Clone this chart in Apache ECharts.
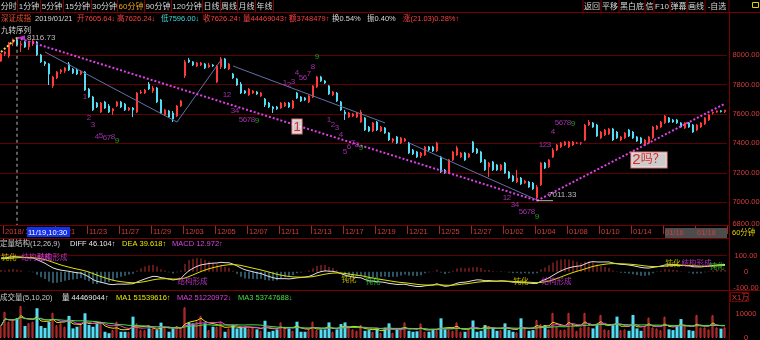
<!DOCTYPE html>
<html>
<head>
<meta charset="utf-8">
<script src="https://cdn.jsdelivr.net/npm/echarts/dist/echarts.min.js"></script>
<style>
html,body{margin:0;padding:0;background:#000;}
#chart{width:760px;height:340px;}
</style>
</head>
<body>
<div id="chart"></div>
<script>
// ---------- data ----------
const days = ['11/15','11/16','11/19','11/20','11/21','11/22','11/23','11/26','11/27','11/28','11/29','11/30',
  '12/03','12/04','12/05','12/06','12/07','12/10','12/11','12/12','12/13','12/14','12/17','12/18','12/19','12/20','12/21',
  '12/24','12/25','12/26','12/27','12/28','01/02','01/03','01/04','01/07','01/08','01/09','01/10','01/11',
  '01/14','01/15','01/16','01/17','01/18','01/21'];
const hours = ['10:30','11:30','14:00','15:00'];

const openP = [7959,8007,7993,8082,8102,8068,8088,8054,8075,8088,
 8000,7953,7939,7790,7844,7885,7891,7939,7905,7898,
 7871,7885,7769,7715,7674,7613,7681,7654,7620,7654,
 7681,7667,7627,7640,7613,7742,7742,7803,7756,7776,
 7695,7593,7620,7606,7586,7654,7858,7966,7953,7925,
 7932,7939,7919,7932,7817,7919,7973,7905,7871,7837,
 7803,7756,7729,7742,7749,7722,7701,7674,7647,7647,
 7640,7654,7674,7640,7742,7715,7708,7681,7715,7783,
 7851,7824,7790,7729,7742,7681,7613,7579,7586,7579,
 7545,7573,7511,7484,7545,7484,7505,7471,7416,7444,
 7403,7416,7403,7355,7342,7315,7321,7376,7376,7349,
 7308,7219,7199,7288,7321,7308,7335,7308,7410,7362,
 7342,7288,7240,7274,7254,7220,7267,7206,7179,7138,
 7165,7131,7138,7131,7030,7118,7267,7240,7308,7355,
 7376,7389,7376,7389,7401,7402,7423,7525,7539,7525,
 7437,7457,7464,7498,7477,7423,7437,7491,7477,7444,
 7437,7389,7403,7437,7498,7511,7539,7573,7559,7559,
 7539,7505,7539,7525,7491,7511,7532,7559,7605.64,7612,
 7621,7615];
const closeP = [8007,8020,8082,8102,8068,8075,8054,8082,8095,8000,
 7953,7939,7871,7851,7885,7898,7912,7898,7878,7871,
 7885,7762,7715,7627,7647,7674,7640,7613,7634,7681,
 7647,7627,7640,7627,7742,7749,7762,7769,7776,7681,
 7606,7627,7579,7566,7654,7688,7953,7953,7932,7946,
 7946,7912,7932,7925,7925,7973,7912,7939,7844,7796,
 7742,7742,7769,7756,7735,7742,7661,7647,7634,7634,
 7674,7674,7647,7688,7708,7688,7695,7722,7790,7851,
 7824,7810,7735,7749,7688,7627,7600,7606,7600,7606,
 7613,7491,7484,7539,7491,7511,7471,7423,7430,7403,
 7437,7430,7335,7328,7308,7335,7376,7355,7349,7403,
 7206,7199,7288,7342,7369,7335,7288,7328,7342,7335,
 7274,7220,7267,7220,7220,7254,7199,7165,7145,7165,
 7125,7145,7104,7091,7104,7267,7233,7288,7355,7389,
 7403,7410,7410,7410,7403,7404,7525,7545,7511,7450,
 7477,7491,7498,7423,7437,7444,7471,7450,7437,7416,
 7403,7423,7444,7511,7518,7545,7586,7545,7545,7539,
 7511,7539,7511,7477,7525,7539,7573,7593,7612,7620,
 7615,7626.24];
const lowP = [7953,7993,7980,8061,8061,8020,8048,8034,8061,7993,
 7946,7925,7796,7776,7837,7871,7878,7891,7871,7864,
 7864,7756,7708,7620,7640,7606,7634,7606,7593,7647,
 7640,7620,7620,7579,7606,7735,7735,7762,7742,7674,
 7600,7586,7572,7545,7579,7647,7844,7946,7925,7919,
 7925,7905,7912,7919,7810,7905,7905,7898,7837,7790,
 7735,7735,7722,7735,7729,7715,7647,7640,7606,7627,
 7634,7647,7640,7634,7701,7681,7688,7674,7708,7776,
 7817,7803,7729,7722,7681,7620,7559,7572,7579,7572,
 7539,7484,7477,7477,7484,7477,7464,7416,7403,7396,
 7396,7410,7328,7321,7301,7301,7315,7349,7342,7342,
 7199,7193,7193,7281,7315,7301,7281,7301,7335,7328,
 7267,7213,7172,7213,7213,7213,7193,7159,7138,7131,
 7118,7125,7098,7084,7011.33,7111,7226,7233,7301,7349,
 7369,7383,7369,7383,7396,7389,7416,7518,7505,7444,
 7430,7450,7457,7416,7430,7416,7430,7444,7430,7410,
 7396,7383,7396,7430,7491,7505,7532,7539,7539,7532,
 7505,7498,7505,7471,7484,7505,7525,7552,7596,7608,
 7610,7606];
const highP = [8014,8027,8088,8112,8116.73,8095,8095,8095,8109,8095,
 8007,7959,7946,7858,7891,7905,7919,7953,7912,7912,
 7898,7891,7776,7722,7681,7681,7688,7667,7640,7688,
 7688,7674,7647,7647,7749,7762,7769,7817,7790,7783,
 7701,7634,7627,7620,7661,7695,7966,7980,7959,7953,
 7953,7946,7946,7939,7932,7986,7980,7946,7878,7844,
 7817,7762,7776,7762,7756,7749,7708,7681,7654,7654,
 7681,7681,7681,7695,7749,7722,7715,7729,7796,7858,
 7858,7830,7796,7756,7749,7688,7627,7613,7606,7613,
 7627,7579,7518,7545,7552,7518,7511,7477,7437,7450,
 7444,7437,7410,7362,7349,7342,7383,7383,7383,7410,
 7315,7226,7294,7349,7383,7342,7342,7335,7416,7369,
 7349,7294,7274,7281,7260,7260,7274,7213,7186,7220,
 7172,7152,7145,7138,7118,7274,7274,7294,7369,7396,
 7410,7416,7416,7416,7410,7410,7532,7559,7545,7532,
 7484,7498,7505,7505,7484,7450,7477,7498,7484,7450,
 7444,7430,7450,7518,7525,7552,7593,7579,7566,7566,
 7545,7545,7545,7532,7532,7545,7579,7600,7615,7624,
 7626.24,7626.24];
// volume in units of 10,000
const volume = [5000,10960,6800,7500,8300,13300,5000,6200,6800,12400,
 5000,4200,6800,10500,5400,6100,4700,9200,4000,4700,
 5400,10300,5400,4700,6100,6400,2600,2000,3300,6800,
 2600,2600,2600,8900,6100,3300,3300,4000,4000,3300,
 6400,4700,2600,4000,5000,4500,12800,6400,6100,6800,
 9200,6100,3300,4700,4700,6800,2600,4000,5400,4000,
 4700,4700,4000,4400,3600,3000,7200,2600,3000,3600,
 6500,4700,4000,3000,6800,2600,2600,3300,6800,3300,
 3600,3600,6500,2600,3600,5800,6500,4700,3600,3000,
 5400,3000,3300,2600,4000,2200,4300,6100,2200,3600,
 3600,6500,3000,2600,2800,6100,2600,2600,3300,3300,
 8200,3600,3300,3000,6500,2600,2600,4000,7300,2600,
 3000,5400,4700,4400,3000,3300,6100,3300,2600,2400,
 8200,4000,3000,3300,7500,5800,5400,3600,10500,4700,
 3300,3500,10500,5400,3000,4400,10500,4700,4000,5400,
 9600,3600,3300,5400,8900,3300,3600,3000,9600,4000,
 3000,4700,8500,4400,4000,3300,8900,3600,3300,5400,
 7900,5100,3300,3000,9600,4400,4400,3600,9500,4400,
 3900,4447];

const xTickIdx = [1,6,14,22,30,38,46,54,62,70,78,86,94,102,110,118,126,134,142,150,158,166,174];
const xTickText = ['2018/','11/19','11/21','11/23','11/27','11/29','12/03','12/05','12/07','12/11','12/13','12/17',
  '12/19','12/21','12/25','12/27','01/02','01/04','01/08','01/10','01/14','01/16','01/18'];

// trend lines (bar index, price)
const trendDown = [[4,8116.73],[134,7011.33]];
const trendUp = [[134,7011.33],[181,7670]];
const trendYellow = [[0,8020],[4,8116.73]];
const thinLines = [
  [[10.5,8020],[44,7545]],
  [[44,7545],[55,7966]],
  [[58,7925],[96,7539]],
  [[102,7403],[134,7016]]
];
// nine-turn sequence numbers
const seqIdx = [21,22,23,24,25,26,27,28,29, 56,57,58,59,60,61,62,63,64, 71,72,73,74,75,76,77,78,79,
  82,83,84,85,86,87,88,89,90, 126,127,128,129,130,131,132,133,134, 135,136,137,138,139,140,141,142,143];
const seqTxt = ['1','2','3','4','5','6','7','8','9','1','2','3','4','5','6','7','8','9','1','2','3','4','5','6','7','8','9',
  '1','2','3','4','5','6','7','8','9','1','2','3','4','5','6','7','8','9','1','2','3','4','5','6','7','8','9'];
const seqVal = [7715,7572,7525,7443,7450,7437,7437,7443,7416,
  7729,7729,7620,7620,7559,7559,7559,7559,7552,
  7810,7796,7817,7878,7844,7844,7871,7919,7986,
  7559,7525,7505,7457,7342,7376,7403,7389,7369,
  7029,7029,6982,6982,6934,6934,6934,6934,6900,
  7389,7389,7389,7477,7539,7539,7539,7539,7532];
// MACD panel notes
const noteIdx = [0,5,9,44,85,91,128,135,166,170,177];
const noteVal = [85,85,85,-64,-51,-63,-63,-63,47,47,29];
const noteTxt = ['钝化','结构形成','结构形成','结构形成','钝化','钝化','钝化','结构形成','钝化','结构形成','钝化'];
const noteKind = ['y','m','m','m','y','g','y','m','y','m','g'];
const macdStart = [85, 80]; // DIFF, DEA at the left edge

// ---------- derived ----------
const cats = [];
days.forEach((d,k)=>{ (k===0?hours.slice(2):hours).forEach(h=>cats.push(d+' '+h)); });
const N = cats.length;
const RED='#ff3c3c', CYAN='#54dcf4', GRID='#5e0000', LBL='#d83c3c';
const FONT='"Liberation Sans","Noto Sans CJK SC",sans-serif';

// MACD (12,26,9)
const diff=[], dea=[], hist=[];
let e12 = closeP[0] - macdStart[0]*5.5/7, e26 = closeP[0] - macdStart[0]*12.5/7, d9 = macdStart[1];
for (let i=0;i<N;i++){
  if(i>0){ e12 = e12*11/13 + closeP[i]*2/13; e26 = e26*25/27 + closeP[i]*2/27; }
  const df = e12-e26; if(i>0) d9 = d9*0.8 + df*0.2;
  diff.push(df); dea.push(d9); hist.push(2*(df-d9));
}
function ma(arr,n){ return arr.map((_,i)=>{const s=Math.max(0,i-n+1); let t=0; for(let k=s;k<=i;k++) t+=arr[k]; return t/(i-s+1);}); }
const ma5=ma(volume,5), ma10=ma(volume,10), ma20=ma(volume,20);

const tickMap = {}; xTickIdx.forEach((v,k)=>tickMap[v]=xTickText[k]);

const chart = echarts.init(document.getElementById('chart'), null, {renderer:'canvas'});

function T(x,y,text,color,size,align,z){
  return {type:'text', x:x, y:y, z:z||100, style:{text:text, fill:color, font:(size||7.5)+'px '+FONT, textAlign:align||'left', textVerticalAlign:'middle'}};
}
function L(x1,y1,x2,y2,color){ return {type:'line', z:90, shape:{x1:x1,y1:y1,x2:x2,y2:y2}, style:{stroke:color||'#7a0000', lineWidth:1}}; }

const graphics = [];
// toolbar
const tabs = [['分时',0,17.5],['1分钟',17.5,40.5],['5分钟',40.5,63.5],['15分钟',63.5,91.5],['30分钟',91.5,117.5],['60分钟',117.5,144.5],
 ['90分钟',144.5,171.5],['120分钟',171.5,202.5],['日线',202.5,220.5],['周线',220.5,237.5],['月线',237.5,255.5],['年线',255.5,273.5]];
tabs.forEach(t=>{ graphics.push(T((t[1]+t[2])/2,6.5,t[0], t[0]==='60分钟'?'#f0a020':'#d8d8d8',8,'center')); graphics.push(L(t[2],0,t[2],12)); });
const rtabs = [['返回',583,601],['平移',601,619],['黑白底',619,645],['信',645,654],['F10',654,670],['弹幕',670,687],['画线',687,705],['-自选',705,729]];
graphics.push(L(583,0,583,12));
rtabs.forEach(t=>{ graphics.push(T((t[1]+t[2])/2,6.5,t[0],'#d8d8d8',8,'center')); graphics.push(L(t[2],0,t[2],12)); });
graphics.push({type:'rect', z:100, shape:{x:752.5,y:2.5,width:6,height:5}, style:{fill:'none', stroke:'#e0d000', lineWidth:1}});
graphics.push(L(0,12.5,760,12.5));
// header row
[['深证成指',1,'#f05030'],['2019/01/21',35,'#d8d8d8'],['开7605.64↓',77,'#ff4040'],['高7626.24↓',117,'#ff4040'],['低7596.00↓',161,'#40d8d8'],
 ['收7626.24↑',203,'#ff4040'],['量44469043↑',243,'#ff4040'],['额3748479↑',289,'#ff4040'],['换0.54%',332,'#d8d8d8'],['振0.40%',367,'#d8d8d8'],
 ['涨(21.03)0.28%↑',403,'#ff4040']].forEach(a=>graphics.push(T(a[1],18.5,a[0],a[2],7.5)));
graphics.push(T(1,31,'九转序列','#d8d8d8',7.5));
// MACD header
[['定量结构(12,26,9)',0,'#c8c8c8'],['DIFF 46.104↑',70,'#e8e8e8'],['DEA 39.618↑',122,'#e8e800'],['MACD 12.972↑',172,'#e040e0']]
 .forEach(a=>graphics.push(T(a[1],244,a[0],a[2],7.5)));
// volume header
[['成交量(5,10,20)',0,'#c8c8c8'],['量 44469044↑',62,'#e8e8e8'],['MA1 51539616↑',116,'#e8e800'],['MA2 51220972↓',177,'#e040e0'],['MA3 53747688↓',238,'#40e040']]
 .forEach(a=>graphics.push(T(a[1],297.5,a[0],a[2],7.5)));
// frame lines
graphics.push(L(729.5,12,729.5,340));
graphics.push(L(0,225.5,729,225.5));
graphics.push(L(0,238.5,729,238.5));
graphics.push(L(0,290.5,760,290.5));
graphics.push(T(732,233,'60分钟','#e8d000',7.5));
graphics.push({type:'rect', z:100, shape:{x:730.5,y:292.5,width:18,height:9}, style:{fill:'#000', stroke:'#7a0000', lineWidth:1}});
graphics.push(T(732,297.5,'X1万','#d83c3c',7.5,'left',101));
// crosshair time box
graphics.push({type:'rect', z:100, shape:{x:27,y:227,width:43,height:10}, style:{fill:'#1430e8'}});
graphics.push(T(28,232.5,'11/19,10:30','#ffffff',7.5,'left',101));

const hideIdx = 6;
const upVol = volume.map((v,i)=> closeP[i]>=openP[i] ? v : null);
const dnVol = volume.map((v,i)=> closeP[i]>=openP[i] ? null : v);

const option = {
  backgroundColor:'#000',
  animation:false,
  textStyle:{fontFamily:FONT},
  grid:[
    {left:-1, top:25.5, width:728, height:206.3, outerBoundsMode:'none'},
    {left:-1, top:224, width:728, height:1, outerBoundsMode:'none'},
    {left:-1, top:255.5, width:728, height:32.4, outerBoundsMode:'none'},
    {left:-1, top:290, width:728, height:48, outerBoundsMode:'none'}
  ],
  xAxis:[0,1,2,3].map(g=>{
    const ax = {type:'category', gridIndex:g, data:cats, boundaryGap:true, axisLine:{show:false}, axisTick:{show:false}, axisLabel:{show:false}, splitLine:{show:false}, axisPointer:{show:false}};
    if(g===1){
      ax.axisTick = {show:true, inside:false, length:9, interval:(i)=>tickMap[i]!==undefined && i!==hideIdx, lineStyle:{color:'#a02828'}};
      ax.axisLabel = {show:true, interval:(i)=>tickMap[i]!==undefined, margin:3, align:'left', color:LBL, fontSize:7.5, fontFamily:FONT,
        formatter:(v,i)=>{ const t=tickMap[i]; if(t==='01/16') return '{hl|'+t+'}'; if(t==='01/18') return '{hl2|'+t+'}'; return t||''; },
        rich:{hl:{backgroundColor:'#4c4c4c', width:32, height:10, color:LBL, fontSize:7.5}, hl2:{backgroundColor:'#4c4c4c', width:30, height:10, color:LBL, fontSize:7.5}}};
    }
    return ax;
  }),
  yAxis:[
    {type:'value', gridIndex:0, position:'right', min:6800, max:8200, interval:200, scale:true,
     axisLine:{show:false}, axisTick:{show:false},
     splitLine:{show:true, lineStyle:{color:['rgba(0,0,0,0)',GRID,GRID,GRID,GRID,GRID,GRID,'rgba(0,0,0,0)'], width:1}},
     axisLabel:{color:LBL, fontSize:7.5, align:'center', margin:19, fontFamily:FONT,
       formatter:v=> v===8200?'':(v===6800?'{lo|6800.00}':v.toFixed(2)), rich:{lo:{padding:[0,0,16,0], color:LBL, fontSize:7.5}}}},
    {type:'value', gridIndex:1, show:false},
    {type:'value', gridIndex:2, position:'right', min:-100, max:100, interval:100,
     axisLine:{show:false}, axisTick:{show:false},
     splitLine:{show:true, lineStyle:{color:['rgba(0,0,0,0)','rgba(0,0,0,0)',GRID], width:1}},
     axisLabel:{color:LBL, fontSize:7.5, align:'center', margin:19, fontFamily:FONT, formatter:v=> v===0?'0':v.toFixed(2)}},
    {type:'value', gridIndex:3, position:'right', min:0, max:20000, interval:10000,
     axisLine:{show:false}, axisTick:{show:false}, splitLine:{show:false},
     axisLabel:{color:LBL, fontSize:7.5, align:'center', margin:19, fontFamily:FONT, formatter:v=> v===20000?'':String(v)}}
  ],
  series:[
    {type:'candlestick', xAxisIndex:0, yAxisIndex:0, barWidth:2,
     data: cats.map((_,i)=>[openP[i],closeP[i],lowP[i],highP[i]]),
     itemStyle:{color:'#000', color0:CYAN, borderColor:RED, borderColor0:CYAN, borderWidth:1},
     markLine:{silent:true, symbol:['none','none'], data:[{yAxis:closeP[N-1]}], lineStyle:{opacity:0},
       label:{show:true, position:'end', distance:2, formatter:closeP[N-1].toFixed(2), color:'#d00000', backgroundColor:'#ffffff', padding:[1,2,0,2], fontSize:7.5}}},
    {type:'line', xAxisIndex:0, yAxisIndex:0, data:[[4,highP[4]],[4,6840]], symbol:'none', lineStyle:{color:'#bbbbbb', width:1, type:[3,3]}, z:3},
    ...thinLines.map(seg=>({type:'line', xAxisIndex:0, yAxisIndex:0, data:seg, symbol:'none', lineStyle:{color:'#6470a8', width:1}, z:3})),
    {type:'line', xAxisIndex:0, yAxisIndex:0, data:trendYellow, symbol:'none', lineStyle:{color:'#f0e040', width:2, type:[2,2]}, z:4},
    {type:'line', xAxisIndex:0, yAxisIndex:0, data:trendDown, symbol:'none', lineStyle:{color:'#e040e8', width:2, type:[2,2]}, z:4},
    {type:'line', xAxisIndex:0, yAxisIndex:0, data:trendUp, symbol:'none', lineStyle:{color:'#e040e8', width:2, type:[2,2]}, z:4},
    // high / low markers
    {type:'scatter', xAxisIndex:0, yAxisIndex:0, z:6, data:[[4,highP[4]]], symbol:'path://M0,5L10,0L10,10Z', symbolSize:[8,5], symbolOffset:[4,0],
     itemStyle:{color:'#e040e8'}, label:{show:true, position:'right', distance:2, formatter:'8116.73', color:'#e0e0e0', fontSize:8}},
    {type:'scatter', xAxisIndex:0, yAxisIndex:0, z:6, data:[[134,lowP[134]]], symbol:'rect', symbolSize:[16,1], symbolOffset:[8,0],
     itemStyle:{color:'#e0e0e0'}, label:{show:true, position:[11,-9], formatter:'7011.33', color:'#e0e0e0', fontSize:8}},
    // sequence numbers
    {type:'scatter', xAxisIndex:0, yAxisIndex:0, z:7, symbolSize:1, itemStyle:{color:'rgba(0,0,0,0)'},
     data: seqIdx.map((x,k)=>({value:[x,seqVal[k]], label:{formatter:seqTxt[k], color: seqTxt[k]==='9'?'#28c828':'#c83cd0'}})),
     label:{show:true, position:'inside', fontSize:8}},
    // boxed notes
    {type:'scatter', xAxisIndex:0, yAxisIndex:0, z:8, symbolSize:1, itemStyle:{color:'rgba(0,0,0,0)'},
     data:[{value:[73.6,7515], label:{formatter:'1', fontSize:13, padding:[1,1,0,1]}},
           {value:[162,7287], label:{formatter:'{a|2}{b|吗？}', padding:[0,2,0,1]}}],
     label:{show:true, position:'inside', color:'#e00000', backgroundColor:'#ffffff', borderColor:'#ff9090', borderWidth:1,
       rich:{a:{fontSize:15, color:'#e00000'}, b:{fontSize:12, color:'#e00000'}}}},
    // MACD
    {type:'bar', xAxisIndex:2, yAxisIndex:2, barWidth:1, data: hist.map(v=>({value:v, itemStyle:{color: v>=0?'#c03030':'#5aa8c8'}}))},
    {type:'line', xAxisIndex:2, yAxisIndex:2, data:diff, symbol:'none', lineStyle:{color:'#e0e0e0', width:1}},
    {type:'line', xAxisIndex:2, yAxisIndex:2, data:dea, symbol:'none', lineStyle:{color:'#e0e000', width:1}},
    {type:'scatter', xAxisIndex:2, yAxisIndex:2, z:6, symbolSize:1, itemStyle:{color:'rgba(0,0,0,0)'},
     data: noteIdx.map((x,k)=>({value:[x,noteVal[k]], label:{formatter:noteTxt[k], color: noteKind[k]==='y'?'#e8e000':(noteKind[k]==='m'?'#e040e8':'#30e030')}})),
     label:{show:true, position:'right', distance:0, fontSize:7.5}},
    // volume
    {type:'bar', xAxisIndex:3, yAxisIndex:3, barWidth:2, barGap:'-100%', data: upVol, itemStyle:{color:'#000', borderColor:'#e03434', borderWidth:1}},
    {type:'bar', xAxisIndex:3, yAxisIndex:3, barWidth:3, barGap:'-100%', data: dnVol, itemStyle:{color:CYAN}},
    {type:'line', xAxisIndex:3, yAxisIndex:3, data:ma5, symbol:'none', lineStyle:{color:'#e0e000', width:1}, z:5},
    {type:'line', xAxisIndex:3, yAxisIndex:3, data:ma10, symbol:'none', lineStyle:{color:'#e040e0', width:1}, z:5},
    {type:'line', xAxisIndex:3, yAxisIndex:3, data:ma20, symbol:'none', lineStyle:{color:'#40e040', width:1}, z:5}
  ],
  graphic: graphics
};
chart.setOption(option);
</script>
</body>
</html>
